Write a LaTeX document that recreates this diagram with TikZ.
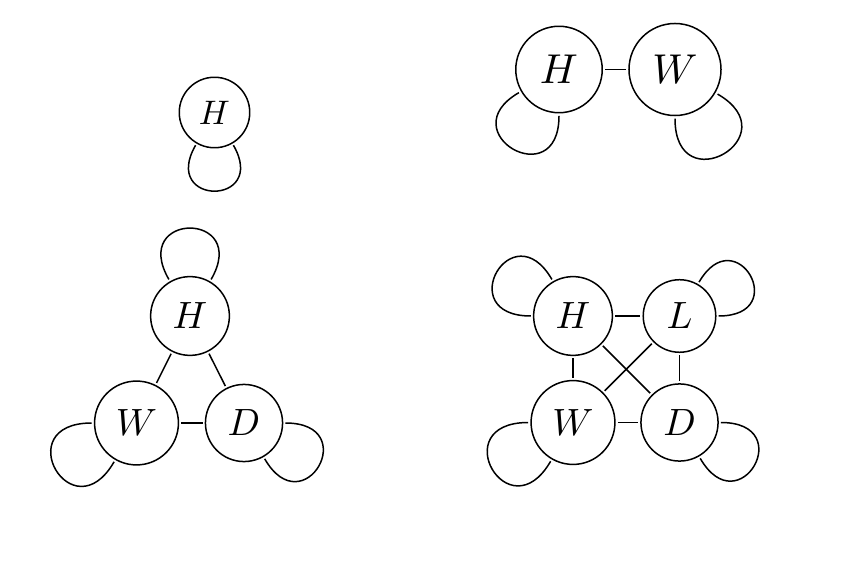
\documentclass[tikz,border=0pt]{standalone}
\usepackage{amsmath}
\usepackage{tikz}
\usetikzlibrary{positioning}

\begin{document}
\begin{tikzpicture}[
      x=1pt, y=1pt,
      vtx/.style={circle, draw, line width=1.5pt},
      lnk/.style={line width=1.5pt},
      lp/.style={lnk, looseness=4.8}
    ]
      \useasboundingbox (0,0) rectangle (848,584);
      \node[vtx, scale=3.4] (h1) at (214.5,471.5) {$H$};
      \draw[lp] (h1) to[out=240, in=300] (h1);

      \node[vtx, scale=4.17] (h2) at (559,514.5) {$H$};
      \node[vtx, scale=4.17] (w2) at (675,514.5) {$W$};
      \draw[lnk] (h2) -- (w2);
      \draw[lp, looseness=4.4] (h2) to[out=270, in=210] (h2);
      \draw[lp, looseness=4.4] (w2) to[out=270, in=330] (w2);

      \node[vtx, scale=3.8] (h3) at (190,268) {$H$};
      \node[vtx, scale=3.8] (w3) at (136.5,161) {$W$};
      \node[vtx, scale=3.8] (d3) at (244,161) {$D$};
      \draw[lnk] (h3) -- (w3);
      \draw[lnk] (h3) -- (d3);
      \draw[lnk] (w3) -- (d3);
      \draw[lp] (h3) to[out=60, in=120] (h3);
      \draw[lp] (w3) to[out=180, in=240] (w3);
      \draw[lp] (d3) to[out=-60, in=0] (d3);

      \node[vtx, scale=3.8] (h4) at (573,268) {$H$};
      \node[vtx, scale=3.8] (l4) at (679.5,268) {$L$};
      \node[vtx, scale=3.8] (w4) at (573,161.5) {$W$};
      \node[vtx, scale=3.8] (d4) at (679.5,161.5) {$D$};
      \draw[lnk] (h4) -- (l4);
      \draw[lnk] (h4) -- (w4);
      \draw[lnk] (h4) -- (d4);
      \draw[lnk] (l4) -- (w4);
      \draw[lnk] (l4) -- (d4);
      \draw[lnk] (w4) -- (d4);
      \draw[lp] (h4) to[out=120, in=180] (h4);
      \draw[lp] (l4) to[out=0, in=60] (l4);
      \draw[lp] (w4) to[out=180, in=240] (w4);
      \draw[lp] (d4) to[out=-60, in=0] (d4);
    \end{tikzpicture}
\end{document}
